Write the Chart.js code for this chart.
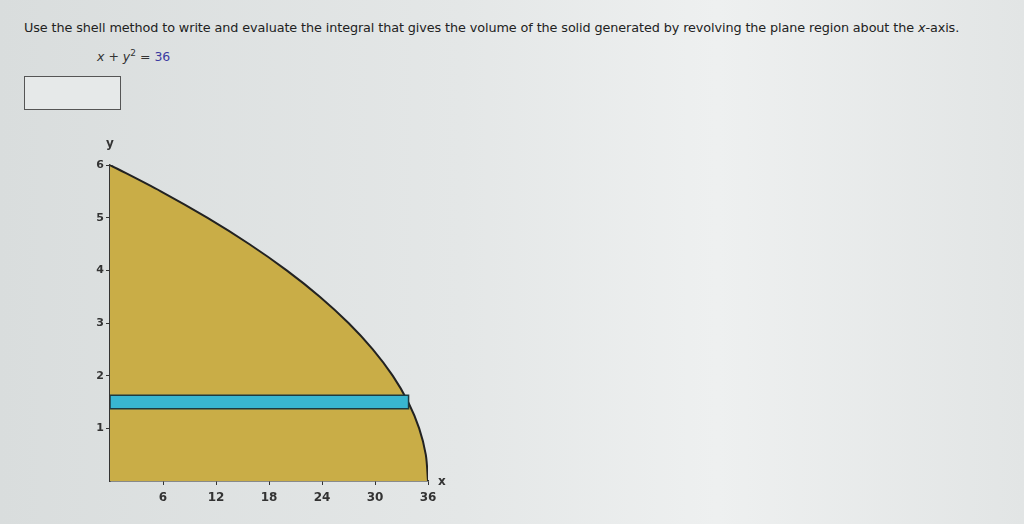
<!DOCTYPE html>
<html><head><meta charset="utf-8">
<script src="https://cdn.jsdelivr.net/npm/chart.js@4"></script>
<style>
body{margin:0;width:1024px;height:524px;overflow:hidden;background:linear-gradient(90deg,#d9dddd 0%,#e4e7e7 45%,#eef0f0 70%,#e2e5e5 100%);font-family:"DejaVu Sans",Verdana,sans-serif;position:relative}
#q{position:absolute;left:24px;top:20px;font-size:12.8px;color:#222;white-space:nowrap;letter-spacing:-0.1px}
#eq{position:absolute;left:97px;top:48px;font-size:12.5px;color:#333}
#box{position:absolute;left:24px;top:76px;width:95px;height:32px;border:1px solid #555;background:#e6e9e9}
#c{position:absolute;left:0;top:0}
.lab{position:absolute;font-size:12px;font-weight:bold;color:#333}
</style></head><body>
<div id="q">Use the shell method to write and evaluate the integral that gives the volume of the solid generated by revolving the plane region about the <i>x</i>-axis.</div>
<div id="eq"><i>x</i> + <i>y</i><sup style="font-size:9px">2</sup> = <span style="color:#3a3aa0">36</span></div>
<div id="box"></div>
<canvas id="c" width="1024" height="524"></canvas>
<div class="lab" style="left:106px;top:136px">y</div>
<div class="lab" style="left:438px;top:474px">x</div>
<script>
const curveY = [0, 0.5, 1, 1.5, 2, 2.5, 3, 3.5, 4, 4.5, 5, 5.5, 6];
const curveX = [36, 35.75, 35, 33.75, 32, 29.75, 27, 23.75, 20, 15.75, 11, 5.75, 0];
const stripX = [0, 33.8];
const stripBottom = 1.37;
const stripTop = 1.63;
const xTicks = [6, 12, 18, 24, 30, 36];
const yTicks = [1, 2, 3, 4, 5, 6];

const curve = curveX.map((x,i)=>({x, y: curveY[i]}));
const sb = stripX.map(x=>({x, y: stripBottom}));
const st = stripX.map(x=>({x, y: stripTop}));
const outline = [{x:stripX[0],y:stripBottom},{x:stripX[1],y:stripBottom},{x:stripX[1],y:stripTop},{x:stripX[0],y:stripTop},{x:stripX[0],y:stripBottom}];

new Chart(document.getElementById('c'), {
  type: 'scatter',
  data: { datasets: [
    {data: curve, order: 10, showLine: true, borderColor: '#222', borderWidth: 2, backgroundColor: '#c9ad47', fill: 'origin', pointRadius: 0, tension: 0.3},
    {data: sb, order: 3, showLine: true, borderWidth: 0, pointRadius: 0, fill: false},
    {data: st, order: 2, showLine: true, borderWidth: 0, pointRadius: 0, fill: '-1', backgroundColor: '#38b6d0'},
    {data: outline, order: 1, showLine: true, borderColor: '#1d3a40', borderWidth: 1.5, pointRadius: 0, fill: false}
  ]},
  options: {
    responsive: false, animation: false,
    layout: {padding: {left: 85, right: 596, top: 165, bottom: 13}},
    plugins: {legend: {display: false}, tooltip: {enabled: false}},
    scales: {
      x: {type: 'linear', min: 0, max: 36,
        afterBuildTicks: s => { s.ticks = xTicks.map(v=>({value:v})); },
        afterFit: s => { s.height = 30; },
        grid: {drawOnChartArea: false, tickLength: 4, color: '#333'},
        border: {color: '#333', width: 1.5},
        ticks: {color: '#333', font: {family: 'DejaVu Sans', size: 12, weight: 'bold'}, padding: 6}},
      y: {type: 'linear', min: 0, max: 6,
        afterBuildTicks: s => { s.ticks = yTicks.map(v=>({value:v})); },
        afterFit: s => { s.width = 25; },
        grid: {drawOnChartArea: false, tickLength: 4, color: '#333'},
        border: {color: '#333', width: 1.5},
        ticks: {color: '#333', font: {family: 'DejaVu Sans', size: 11, weight: 'bold'}, padding: 2}}
    }
  }
});
</script>
</body></html>
